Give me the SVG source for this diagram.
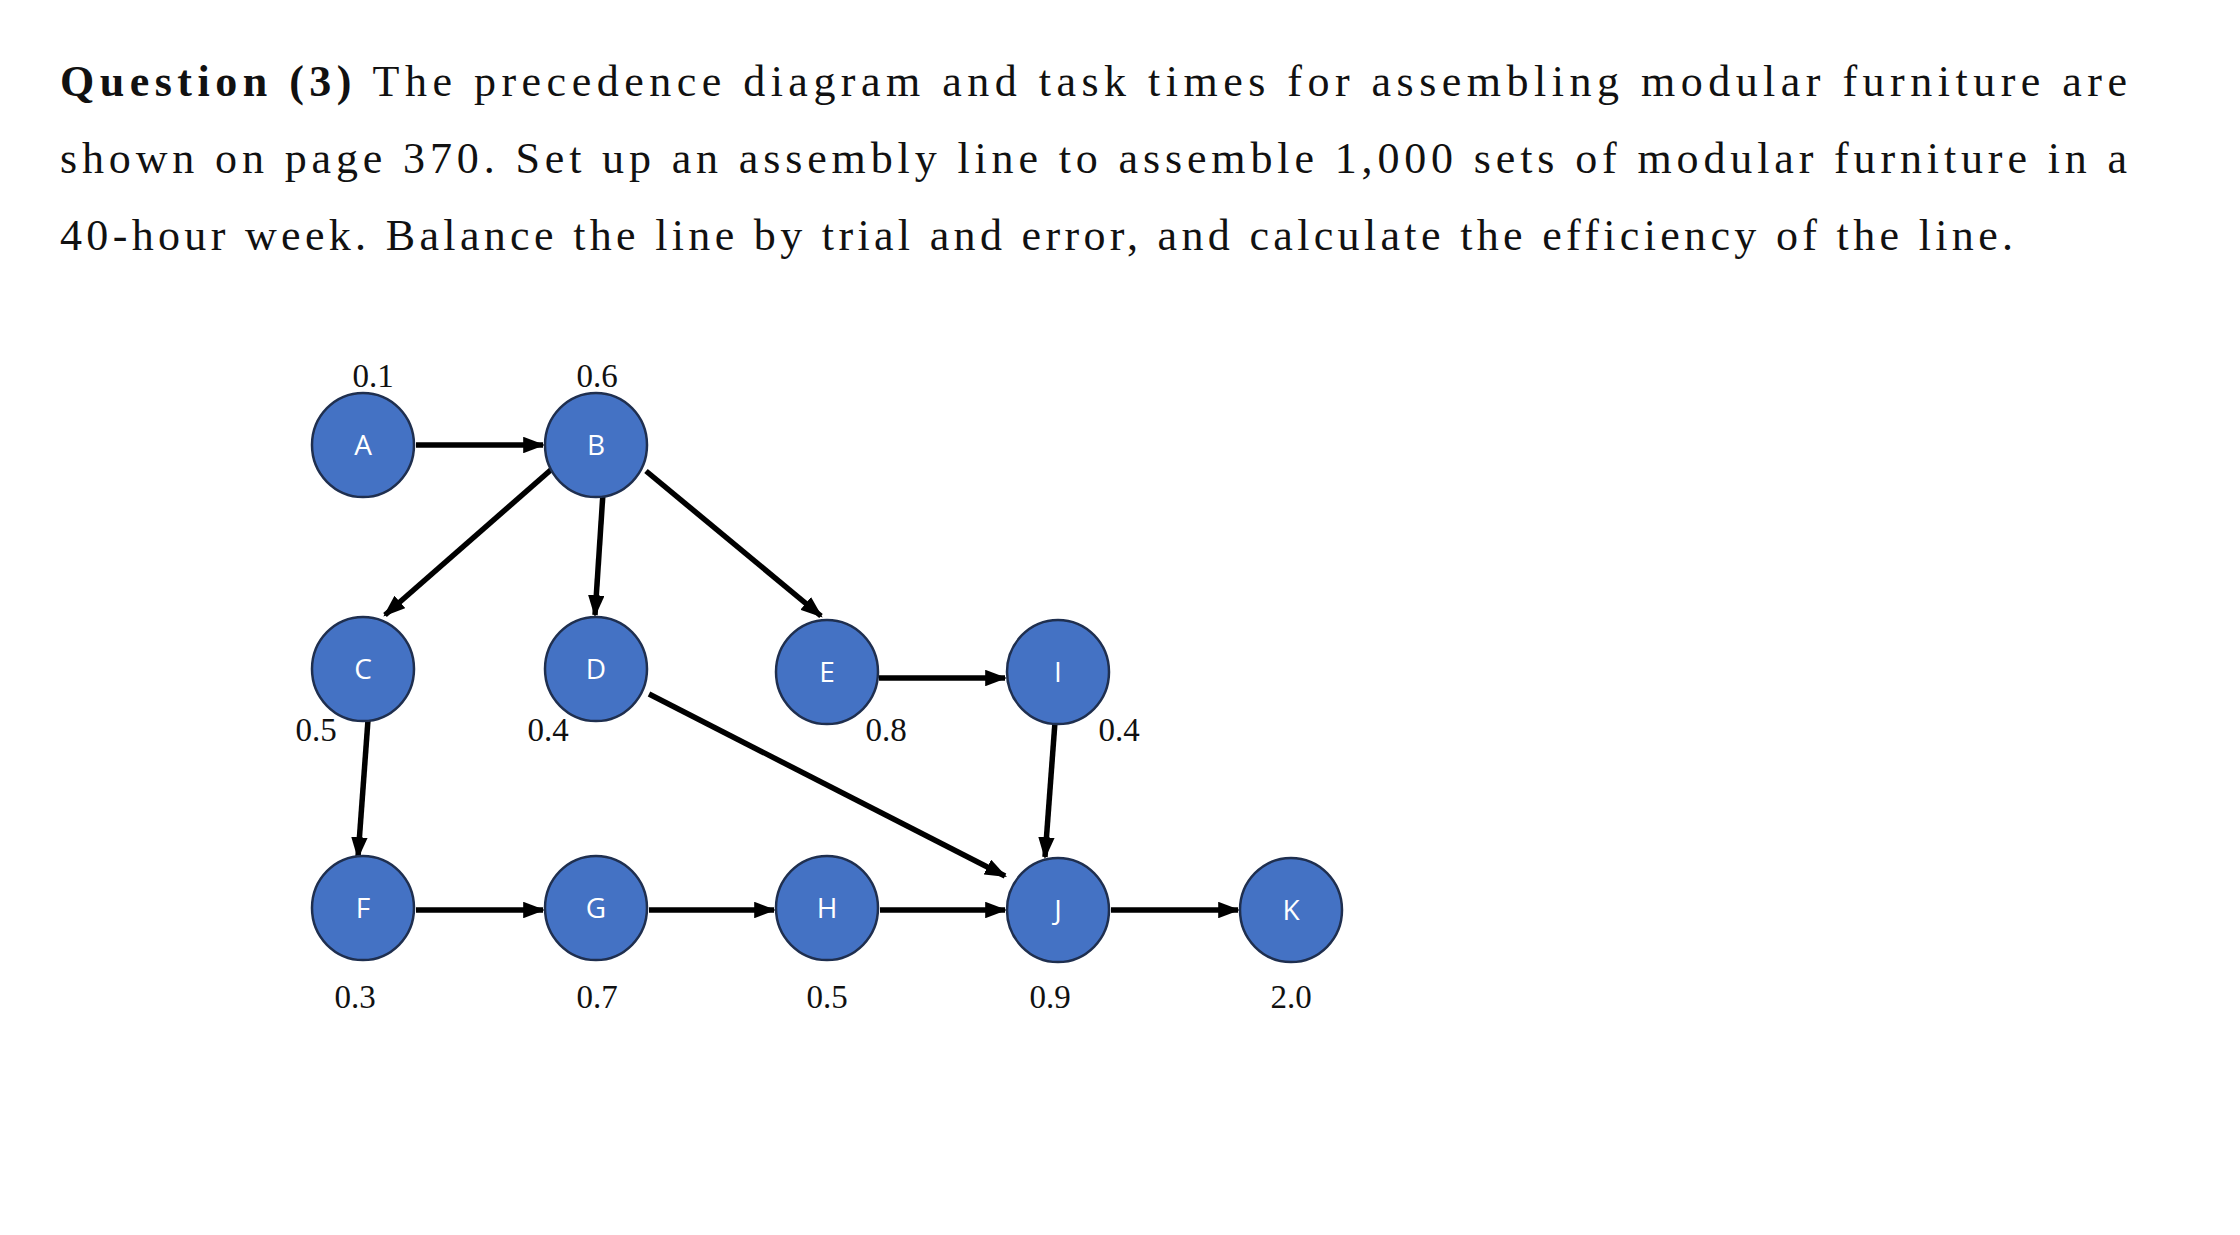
<svg xmlns="http://www.w3.org/2000/svg" width="2240" height="1235" viewBox="0 0 2240 1235">
<style>
.t{font-family:"Liberation Serif",serif;font-size:44px;fill:#111}
.n ellipse{fill:#4472C4;stroke:#1f2f4f;stroke-width:2.5}
.n text{font-family:"Open Sans","Liberation Sans",sans-serif;font-size:28px;fill:#fff;text-anchor:middle}
.v{font-family:"Liberation Serif",serif;font-size:33px;fill:#111;text-anchor:middle}
.e line{stroke:#000;stroke-width:5.5;marker-end:url(#ah)}
</style>
<defs><marker id="ah" markerWidth="4" markerHeight="3" refX="3.6" refY="1.5" orient="auto" markerUnits="strokeWidth"><path d="M0,0L4,1.5L0,3z" fill="#000"/></marker></defs>
<rect width="2240" height="1235" fill="#fff"/>
<text class="t" x="60" y="96" textLength="2067" lengthAdjust="spacing"><tspan font-weight="bold">Question (3)</tspan> The precedence diagram and task times for assembling modular furniture are</text>
<text class="t" x="60" y="173" textLength="2067" lengthAdjust="spacing">shown on page 370. Set up an assembly line to assemble 1,000 sets of modular furniture in a</text>
<text class="t" x="60" y="250" textLength="1953" lengthAdjust="spacing">40-hour week. Balance the line by trial and error, and calculate the efficiency of the line.</text>
<g id="edges" class="e">
<line x1="416" y1="445" x2="543" y2="445"/>
<line x1="553" y1="468" x2="385" y2="615"/>
<line x1="603" y1="493" x2="595" y2="615"/>
<line x1="646" y1="471" x2="821" y2="616"/>
<line x1="879" y1="678" x2="1005" y2="678"/>
<line x1="649" y1="694" x2="1005" y2="876"/>
<line x1="1055" y1="722" x2="1045" y2="857"/>
<line x1="368" y1="720" x2="358" y2="857"/>
<line x1="416" y1="910" x2="543" y2="910"/>
<line x1="649" y1="910" x2="774" y2="910"/>
<line x1="880" y1="910" x2="1005" y2="910"/>
<line x1="1111" y1="910" x2="1238" y2="910"/>
</g>
<g id="A" class="n"><ellipse cx="363" cy="445" rx="51" ry="52"/><text x="363" y="455">A</text></g>
<g id="B" class="n"><ellipse cx="596" cy="445" rx="51" ry="52"/><text x="596" y="455">B</text></g>
<g id="C" class="n"><ellipse cx="363" cy="669" rx="51" ry="52"/><text x="363" y="679">C</text></g>
<g id="D" class="n"><ellipse cx="596" cy="669" rx="51" ry="52"/><text x="596" y="679">D</text></g>
<g id="E" class="n"><ellipse cx="827" cy="672" rx="51" ry="52"/><text x="827" y="682">E</text></g>
<g id="I" class="n"><ellipse cx="1058" cy="672" rx="51" ry="52"/><text x="1058" y="682">I</text></g>
<g id="F" class="n"><ellipse cx="363" cy="908" rx="51" ry="52"/><text x="363" y="918">F</text></g>
<g id="G" class="n"><ellipse cx="596" cy="908" rx="51" ry="52"/><text x="596" y="918">G</text></g>
<g id="H" class="n"><ellipse cx="827" cy="908" rx="51" ry="52"/><text x="827" y="918">H</text></g>
<g id="J" class="n"><ellipse cx="1058" cy="910" rx="51" ry="52"/><text x="1058" y="920">J</text></g>
<g id="K" class="n"><ellipse cx="1291" cy="910" rx="51" ry="52"/><text x="1291" y="920">K</text></g>
<g id="times">
<text class="v" x="373" y="387">0.1</text>
<text class="v" x="597" y="387">0.6</text>
<text class="v" x="316" y="741">0.5</text>
<text class="v" x="548" y="741">0.4</text>
<text class="v" x="886" y="741">0.8</text>
<text class="v" x="1119" y="741">0.4</text>
<text class="v" x="355" y="1008">0.3</text>
<text class="v" x="597" y="1008">0.7</text>
<text class="v" x="827" y="1008">0.5</text>
<text class="v" x="1050" y="1008">0.9</text>
<text class="v" x="1291" y="1008">2.0</text>
</g>
</svg>
